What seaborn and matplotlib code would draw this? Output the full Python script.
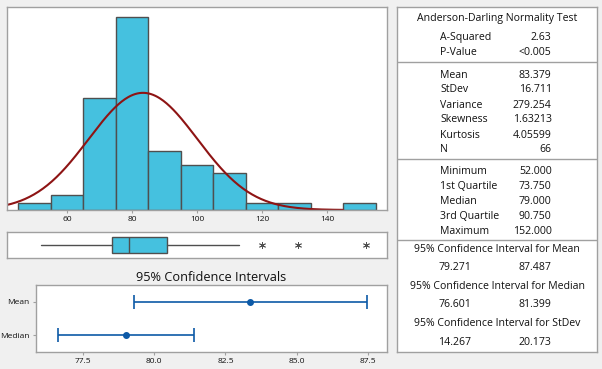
import numpy as np
import pandas as pd
import matplotlib
matplotlib.use('Agg')
import matplotlib.pyplot as plt
import seaborn as sns

sns.set_style('white')
plt.rcParams['font.family'] = ['Open Sans', 'DejaVu Sans']

# histogram: bin centres / counts (N = 66)
bin_mids = [50, 60, 70, 80, 90, 100, 110, 120, 130, 140, 150]
bin_counts = [1, 2, 15, 26, 8, 6, 5, 1, 1, 0, 1]
bin_edges = [45, 55, 65, 75, 85, 95, 105, 115, 125, 135, 145, 155]
mean, stdev, n = 83.379, 16.711, 66

# boxplot summary
box_min, box_q1, box_med, box_q3, box_whishi = 52, 73.75, 79, 90.75, 113
outliers = [120, 131, 152]

# 95% confidence intervals
ci_names = ['Mean', 'Median']
ci_centre = [83.379, 79.0]
ci_low = [79.271, 76.601]
ci_high = [87.487, 81.399]

# summary table
ad_labels = ['A-Squared', 'P-Value']
ad_values = ['2.63', '<0.005']
desc_labels = ['Mean', 'StDev', 'Variance', 'Skewness', 'Kurtosis', 'N']
desc_values = ['83.379', '16.711', '279.254', '1.63213', '4.05599', '66']
quant_labels = ['Minimum', '1st Quartile', 'Median', '3rd Quartile', 'Maximum']
quant_values = ['52.000', '73.750', '79.000', '90.750', '152.000']
ci_titles = ['95% Confidence Interval for Mean',
             '95% Confidence Interval for Median',
             '95% Confidence Interval for StDev']
ci_table_lo = ['79.271', '76.601', '14.267']
ci_table_hi = ['87.487', '81.399', '20.173']

BAR = '#45c1df'
EDGE = '#4f4f4f'
FRAME = '#a0a0a0'
CURVE = '#8e1414'
BLUE = '#0d5aa7'
TXT = '#111111'

W, H = 602, 369
fig = plt.figure(figsize=(W / 100, H / 100), dpi=100)
fig.patch.set_facecolor('#f0f0f0')


def box(l, t, r, b):
    return [l / W, 1 - b / H, (r - l) / W, (b - t) / H]


def frame(ax):
    for s in ax.spines.values():
        s.set_color(FRAME)
        s.set_linewidth(1)
        s.set_visible(True)


# ---- histogram
ax = fig.add_axes(box(7, 7, 387, 210))
df = pd.DataFrame({'x': bin_mids, 'w': bin_counts})
sns.histplot(data=df, x='x', weights='w', bins=bin_edges, ax=ax,
             color=BAR, edgecolor=EDGE, linewidth=1, alpha=1)
xs = np.linspace(41.5, 145, 300)
ys = n * 10 * np.exp(-0.5 * ((xs - mean) / stdev) ** 2) / (stdev * np.sqrt(2 * np.pi))
sns.lineplot(x=xs, y=ys, ax=ax, color=CURVE, linewidth=1.5)
ax.set_xlim(41.5, 158.5)
ax.set_ylim(0, 27.3)
ax.set_yticks([])
ax.set_xticks([60, 80, 100, 120, 140])
ax.set_xlabel('')
ax.set_ylabel('')
ax.tick_params(axis='x', length=2.5, color=FRAME, labelsize=6, labelcolor=TXT, pad=2,
               bottom=True)
frame(ax)

# ---- boxplot
axb = fig.add_axes(box(7, 231.7, 387, 258.3))
stats = [dict(med=box_med, q1=box_q1, q3=box_q3, whislo=box_min, whishi=box_whishi,
              fliers=outliers)]
axb.bxp(stats, positions=[0], widths=1.16, vert=False, patch_artist=True,
        showcaps=False,
        boxprops=dict(facecolor=BAR, edgecolor=EDGE, linewidth=1),
        medianprops=dict(color=EDGE, linewidth=1),
        whiskerprops=dict(color=EDGE, linewidth=1),
        flierprops=dict(marker=(6, 2, 0), markersize=5, markeredgecolor='#505050',
                        markeredgewidth=0.6))
axb.set_xlim(41.5, 158.5)
axb.set_ylim(-1, 1)
axb.set_xticks([])
axb.set_yticks([])
frame(axb)

# ---- confidence intervals
axc = fig.add_axes(box(36, 285, 386.7, 351.7))
ypos = [1, 0]
for yp, c, lo, hi in zip(ypos, ci_centre, ci_low, ci_high):
    axc.errorbar([c], [yp], xerr=[[c - lo], [hi - c]], fmt='o', color=BLUE,
                 markersize=4, capsize=5, elinewidth=1.2, capthick=1.2)
axc.set_xlim(75.84, 88.17)
axc.set_ylim(-0.5, 1.5)
axc.set_yticks(ypos)
axc.set_yticklabels(ci_names)
axc.set_xticks([77.5, 80.0, 82.5, 85.0, 87.5])
axc.set_xticklabels(['77.5', '80.0', '82.5', '85.0', '87.5'])
axc.tick_params(length=2.5, color=FRAME, labelsize=6, labelcolor=TXT, pad=2,
                bottom=True, left=True)
axc.set_title('95% Confidence Intervals', fontsize=9.2, color=TXT, pad=3)
frame(axc)

# ---- table
axt = fig.add_axes(box(397, 6.7, 597, 351.7))
axt.set_xlim(0, 200)
axt.set_ylim(345, 0)
axt.set_xticks([])
axt.set_yticks([])
frame(axt)
fs = 7.6
axt.text(100, 12.3, 'Anderson-Darling Normality Test', ha='center', va='center',
         fontsize=fs, color=TXT)


def rows(labels, values, y0):
    for i, (lab, val) in enumerate(zip(labels, values)):
        y = y0 + 15 * i
        axt.text(43, y, lab, ha='left', va='center', fontsize=fs, color=TXT)
        axt.text(154.7, y, val, ha='right', va='center', fontsize=fs, color=TXT)


rows(ad_labels, ad_values, 31)
rows(desc_labels, desc_values, 68.3)
rows(quant_labels, quant_values, 164.6)
for ysep in [55, 152.6, 233.3]:
    axt.axhline(ysep, color=FRAME, linewidth=1)
for i, (t, lo, hi) in enumerate(zip(ci_titles, ci_table_lo, ci_table_hi)):
    y = 242.3 + 37.3 * i
    axt.text(100, y, t, ha='center', va='center', fontsize=fs, color=TXT)
    axt.text(58, y + 18.5, lo, ha='center', va='center', fontsize=fs, color=TXT)
    axt.text(138, y + 18.5, hi, ha='center', va='center', fontsize=fs, color=TXT)

fig.savefig('out.png', dpi=100, facecolor=fig.get_facecolor())
